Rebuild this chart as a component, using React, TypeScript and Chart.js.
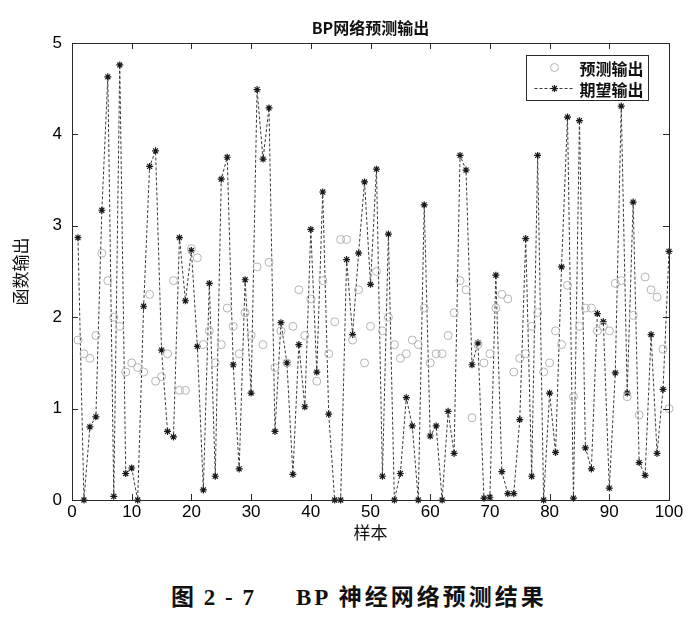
import React, { useEffect, useRef } from "react";
import { Chart, registerables } from "chart.js";

Chart.register(...registerables);

const chartTitle = "BP网络预测输出";
const xTitle = "样本";
const yTitle = "函数输出";
const predictedLabel = "预测输出";
const expectedLabel = "期望输出";
const captionNumber = "图 2 - 7";
const captionText = "BP 神经网络预测结果";

const samples = Array.from({ length: 100 }, (_, i) => i + 1);

const expectedOutput = [
  2.87, 0.0, 0.8, 0.91, 3.17, 4.63, 0.04, 4.76, 0.29, 0.35,
  0.0, 2.12, 3.65, 3.82, 1.64, 0.75, 0.69, 2.87, 2.18, 2.73,
  1.68, 0.11, 2.37, 0.26, 3.51, 3.75, 1.48, 0.34, 2.41, 1.17,
  4.49, 3.73, 4.29, 0.75, 1.94, 1.5, 0.28, 1.7, 1.02, 2.96,
  1.4, 3.37, 0.94, 0.0, 0.0, 2.63, 1.81, 2.7, 3.48, 2.36,
  3.62, 0.26, 2.91, 0.0, 0.29, 1.12, 0.81, 0.0, 3.23, 0.7,
  0.81, 0.0, 0.97, 0.51, 3.77, 3.61, 1.48, 1.72, 0.02, 0.03,
  2.46, 0.31, 0.07, 0.07, 0.88, 2.86, 0.26, 3.77, 0.0, 1.17,
  0.52, 2.55, 4.19, 0.02, 4.15, 0.57, 0.34, 2.04, 1.95, 0.13,
  1.39, 4.31, 1.17, 3.26, 0.41, 0.27, 1.81, 0.51, 1.21, 2.72,
];

const predictedOutput = [
  1.75, 1.6, 1.55, 1.8, 2.7, 2.4, 2.0, 1.9, 1.4, 1.5,
  1.45, 1.4, 2.25, 1.3, 1.35, 1.6, 2.4, 1.2, 1.2, 2.75,
  2.65, 1.7, 1.85, 1.5, 1.7, 2.1, 1.9, 1.6, 2.05, 1.8,
  2.55, 1.7, 2.6, 1.45, 1.85, 1.5, 1.9, 2.3, 1.8, 2.2,
  1.3, 2.4, 1.6, 1.95, 2.85, 2.85, 1.75, 2.3, 1.5, 1.9,
  2.5, 1.85, 2.0, 1.7, 1.55, 1.6, 1.75, 1.7, 2.1, 1.5,
  1.6, 1.6, 1.8, 2.05, 2.4, 2.3, 0.9, 1.7, 1.5, 1.6,
  2.1, 2.25, 2.2, 1.4, 1.55, 1.6, 1.9, 2.05, 1.4, 1.5,
  1.85, 1.7, 2.35, 1.13, 1.9, 2.1, 2.1, 1.85, 1.9, 1.85,
  2.37, 2.4, 1.13, 2.02, 0.93, 2.44, 2.3, 2.22, 1.65, 1.0,
];

const xTickValues = [0, 10, 20, 30, 40, 50, 60, 70, 80, 90, 100];
const yTickValues = [0, 1, 2, 3, 4, 5];

const CJK = "'Noto Sans CJK SC', 'Noto Sans', sans-serif";
const AXIS_COLOR = "#2a2a2a";
const LINE_COLOR = "#3a3a3a";
const CIRCLE_COLOR = "#b4b4b4";

const matlabAxes = {
  id: "matlabAxes",
  afterDatasetsDraw(chart: any) {
    const { ctx, chartArea: a, scales } = chart;
    const xs = scales.x;
    const ys = scales.y;
    ctx.save();
    ctx.strokeStyle = AXIS_COLOR;
    ctx.lineWidth = 1;
    ctx.setLineDash([]);
    ctx.strokeRect(Math.round(a.left) + 0.5, Math.round(a.top) + 0.5, Math.round(a.right - a.left), Math.round(a.bottom - a.top));
    const L = 6;
    ctx.beginPath();
    xs.ticks.forEach((t: any) => {
      const px = Math.round(xs.getPixelForValue(t.value)) + 0.5;
      ctx.moveTo(px, a.bottom);
      ctx.lineTo(px, a.bottom - L);
      ctx.moveTo(px, a.top);
      ctx.lineTo(px, a.top + L);
    });
    ys.ticks.forEach((t: any) => {
      const py = Math.round(ys.getPixelForValue(t.value)) + 0.5;
      ctx.moveTo(a.left, py);
      ctx.lineTo(a.left + L, py);
      ctx.moveTo(a.right, py);
      ctx.lineTo(a.right - L, py);
    });
    ctx.stroke();

    // legend box (MATLAB style, inside top-right)
    const bw = 122;
    const bh = 45;
    const bx = Math.round(a.right - 21 - bw) + 0.5;
    const by = Math.round(a.top + 12) + 0.5;
    ctx.fillStyle = "#ffffff";
    ctx.fillRect(bx, by, bw, bh);
    ctx.strokeStyle = AXIS_COLOR;
    ctx.strokeRect(bx, by, bw, bh);

    const ds0 = chart.data.datasets[0];
    const ds1 = chart.data.datasets[1];
    const sx = bx + 28;
    const r1 = by + 12;
    const r2 = by + 33;
    ctx.strokeStyle = ds0.borderColor;
    ctx.beginPath();
    ctx.arc(sx, r1, ds0.pointRadius, 0, Math.PI * 2);
    ctx.stroke();
    ctx.strokeStyle = ds1.borderColor;
    ctx.setLineDash(ds1.borderDash);
    ctx.beginPath();
    ctx.moveTo(bx + 8, r2);
    ctx.lineTo(bx + 48, r2);
    ctx.stroke();
    ctx.setLineDash([]);

    ctx.strokeStyle = "#1a1a1a";
    ctx.lineWidth = 1.2;
    const rr = ds1.pointRadius;
    ctx.beginPath();
    for (let k = 0; k < 4; k++) {
      const ang = (Math.PI / 4) * k;
      ctx.moveTo(sx - Math.cos(ang) * rr, r2 - Math.sin(ang) * rr);
      ctx.lineTo(sx + Math.cos(ang) * rr, r2 + Math.sin(ang) * rr);
    }
    ctx.stroke();

    ctx.fillStyle = "#111";
    ctx.font = `bold 16px ${CJK}`;
    ctx.textAlign = "left";
    ctx.textBaseline = "middle";
    ctx.fillText(predictedLabel, bx + 53, r1 + 1);
    ctx.fillText(expectedLabel, bx + 53, r2 + 1);

    // title centred over the axes
    ctx.font = `bold 16px ${CJK}`;
    ctx.textAlign = "center";
    ctx.textBaseline = "middle";
    ctx.fillText(chartTitle, (a.left + a.right) / 2, a.top - 15);
    ctx.restore();
  },
};

export default function App() {
  const canvasRef = useRef<HTMLCanvasElement | null>(null);

  useEffect(() => {
    if (!canvasRef.current) return;
    const chart = new Chart(canvasRef.current, {
      type: "line",
      data: {
        datasets: [
          {
            label: predictedLabel,
            data: samples.map((s, i) => ({ x: s, y: predictedOutput[i] })),
            showLine: false,
            pointStyle: "circle",
            pointRadius: 4,
            pointBorderWidth: 1,
            borderColor: CIRCLE_COLOR,
            backgroundColor: "rgba(0,0,0,0)",
            pointBackgroundColor: "rgba(0,0,0,0)",
            clip: false as any,
          },
          {
            label: expectedLabel,
            data: samples.map((s, i) => ({ x: s, y: expectedOutput[i] })),
            showLine: true,
            borderColor: LINE_COLOR,
            borderWidth: 1,
            borderDash: [3, 2],
            pointStyle: "star",
            pointRadius: 3.5,
            pointBorderWidth: 1.2,
            pointBorderColor: "#1a1a1a",
            pointBackgroundColor: "#1a1a1a",
            tension: 0,
            fill: false,
            clip: false as any,
          },
        ],
      },
      options: {
        animation: false,
        responsive: false,
        maintainAspectRatio: false,
        layout: { padding: { top: 43, right: 25, left: 0, bottom: 0 } },
        plugins: {
          legend: { display: false },
          tooltip: { enabled: false },
          title: { display: false },
        },
        scales: {
          x: {
            type: "linear",
            min: 0,
            max: 100,
            afterBuildTicks: (s: any) => {
              s.ticks = xTickValues.map((v) => ({ value: v }));
            },
            ticks: {
              font: { family: "'Liberation Sans', Arial, sans-serif", size: 17 },
              color: "#000",
              padding: 2,
              maxRotation: 0,
            },
            grid: { display: false, drawTicks: false },
            border: { display: false },
            title: {
              display: true,
              text: xTitle,
              font: { family: CJK, size: 17 },
              color: "#111",
              padding: { top: 0, bottom: 17 },
            },
            afterFit: (s: any) => {
              s.height = 60;
            },
          },
          y: {
            type: "linear",
            min: 0,
            max: 5,
            afterBuildTicks: (s: any) => {
              s.ticks = yTickValues.map((v) => ({ value: v }));
            },
            ticks: {
              font: { family: "'Liberation Sans', Arial, sans-serif", size: 17 },
              color: "#000",
              padding: 10,
            },
            grid: { display: false, drawTicks: false },
            border: { display: false },
            title: {
              display: true,
              text: yTitle,
              font: { family: CJK, size: 17 },
              color: "#111",
              padding: { top: 10, bottom: 0 },
            },
            afterFit: (s: any) => {
              s.width = 72;
            },
          },
        },
      },
      plugins: [matlabAxes],
    });
    return () => chart.destroy();
  }, []);

  return (
    <div
      style={{
        position: "fixed",
        left: 0,
        top: 0,
        width: 694,
        height: 625,
        background: "#ffffff",
        overflow: "hidden",
      }}
    >
      <canvas ref={canvasRef} width={694} height={560} style={{ display: "block", width: 694, height: 560 }} />
      <div
        style={{
          position: "absolute",
          top: 584,
          left: 171,
          whiteSpace: "pre",
          fontFamily: "'Liberation Serif', 'Noto Sans CJK SC', serif",
          fontWeight: "bold",
          fontSize: 23,
          color: "#111",
          lineHeight: "28px",
        }}
      >
        <span style={{ letterSpacing: 2 }}>{captionNumber}</span>
        <span style={{ display: "inline-block", width: 40 }} />
        <span style={{ letterSpacing: 3 }}>{captionText}</span>
      </div>
    </div>
  );
}
